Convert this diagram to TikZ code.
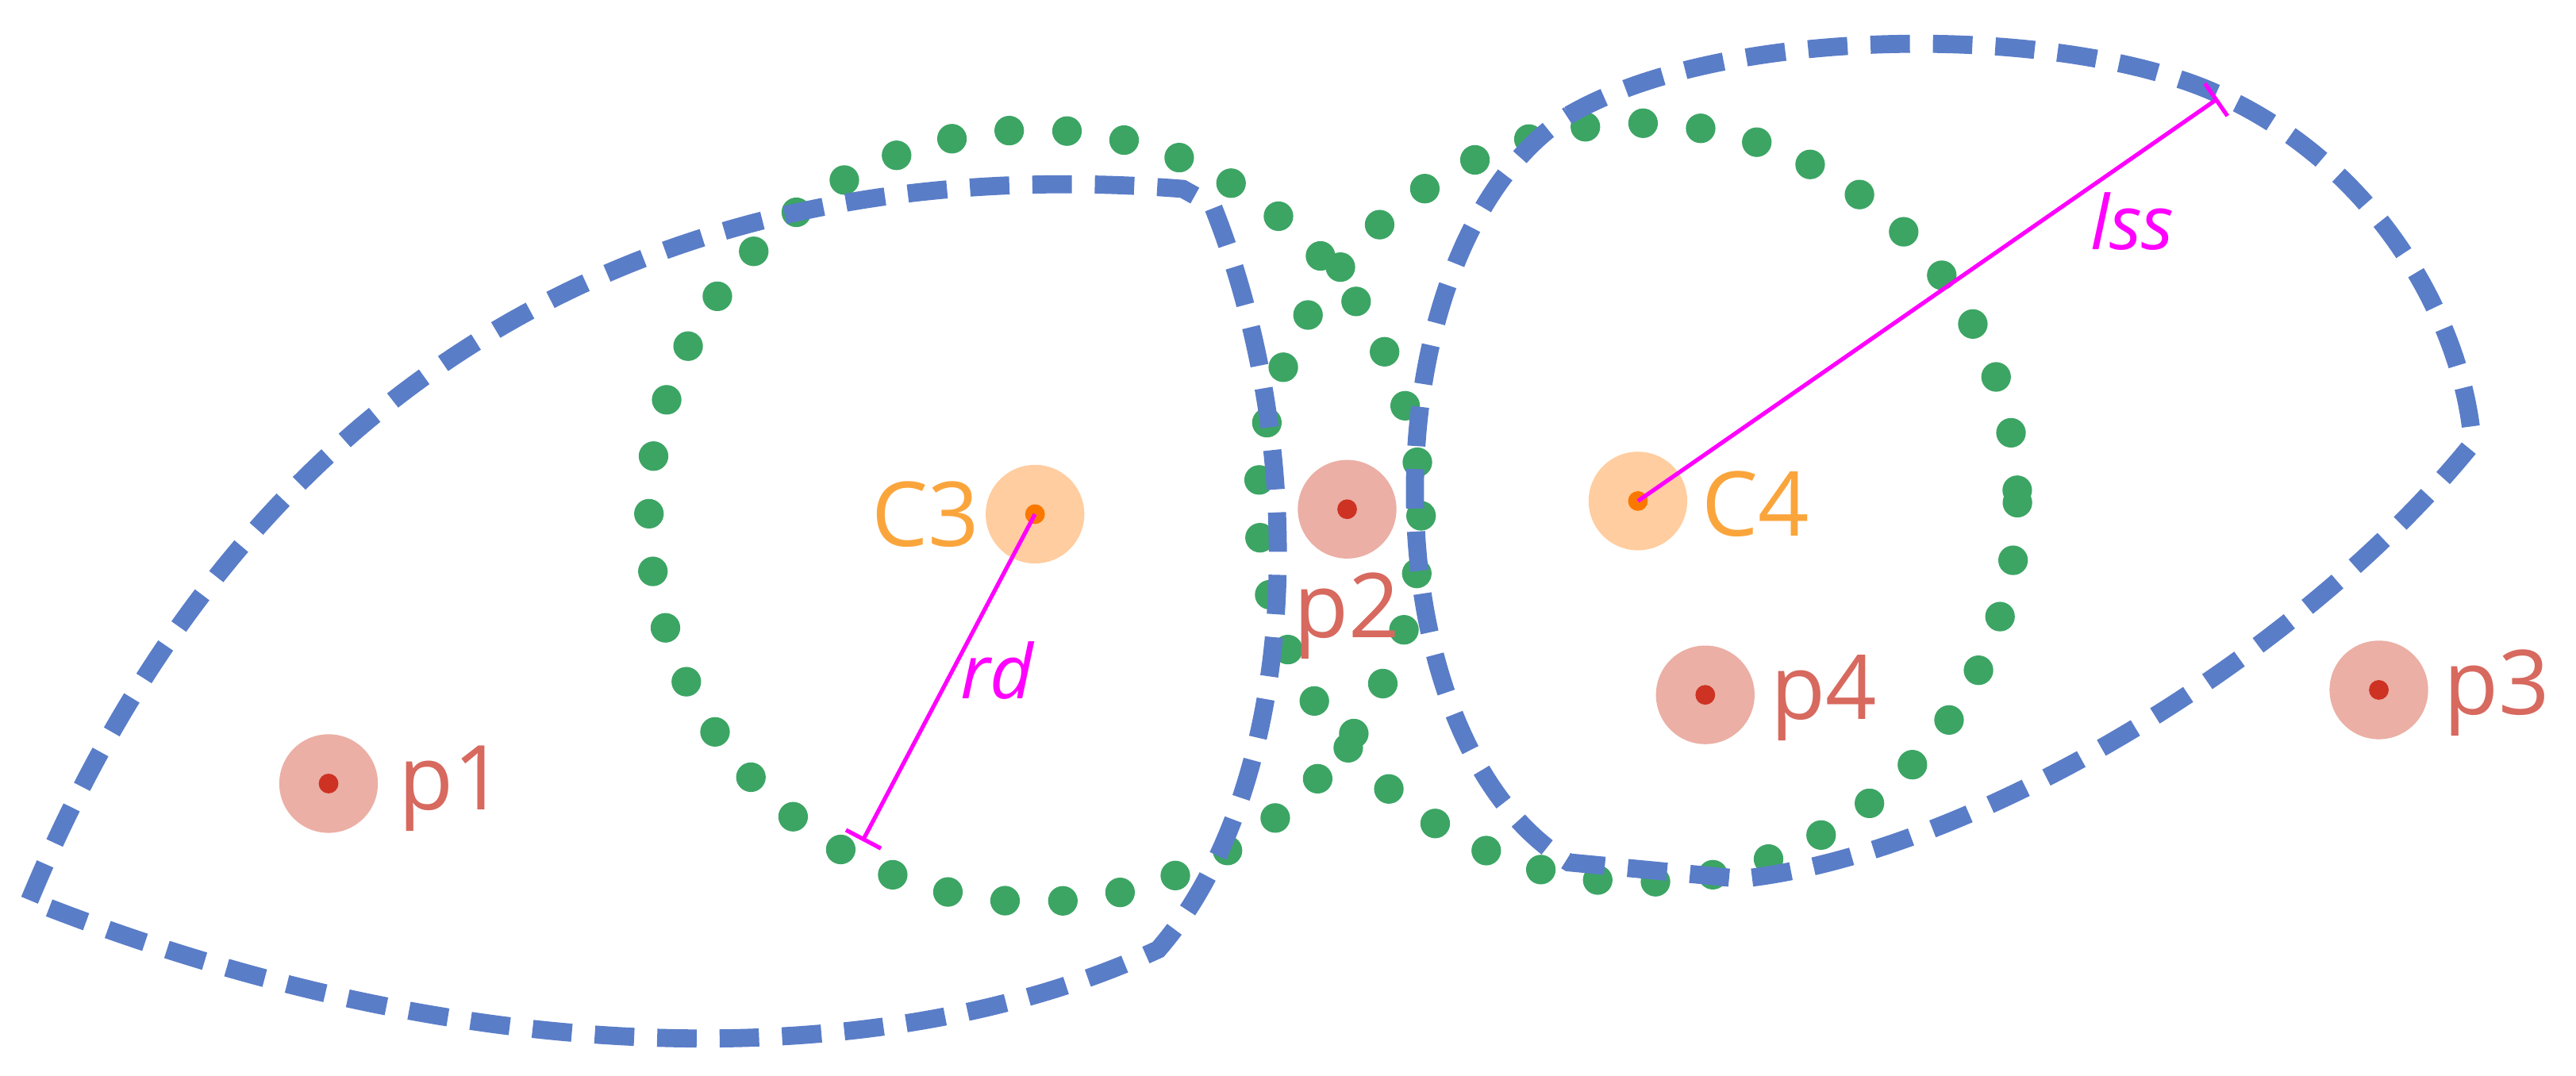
\documentclass[tikz,border=0pt]{standalone}
\usepackage{fontspec}
\setmainfont{Open Sans}
\definecolor{dotg}{RGB}{60,165,100}
\definecolor{bluec}{RGB}{90,125,200}
\definecolor{haloc}{RGB}{235,175,165}
\definecolor{ohaloc}{RGB}{255,205,160}
\definecolor{plabc}{RGB}{215,105,95}
\definecolor{clabc}{RGB}{250,165,60}
\definecolor{magc}{RGB}{255,0,255}
\definecolor{redd}{RGB}{205,50,35}
\definecolor{orad}{RGB}{250,120,0}
\begin{document}
\begin{tikzpicture}[x=0.01cm,y=-0.01cm,
  dotc/.style={draw=dotg, line width=0.18cm, line cap=round, dash pattern=on 0pt off 0.352cm},
  blueb/.style={draw=bluec, line width=0.11cm, dash pattern=on 0.24cm off 0.14cm},
  halo/.style={circle, minimum size=0.6cm, inner sep=0pt, fill=haloc},
  ohalo/.style={circle, minimum size=0.6cm, inner sep=0pt, fill=ohaloc},
  plab/.style={text=plabc, font=\fontsize{15.5}{18}\selectfont, inner sep=0pt},
  clab/.style={text=clabc, font=\fontsize{15.5}{18}\selectfont, inner sep=0pt},
  mag/.style={draw=magc, line width=0.025cm},
  mlab/.style={text=magc, font=\itshape\fontsize{13}{16}\selectfont, inner sep=0pt}]
\useasboundingbox (0,0) rectangle (1568,655);
\draw[dotc] (630,314) circle [radius=235];
\draw[dotc] (997,306) circle [radius=231];
\draw[blueb] (18,548) .. controls (150,230) and (400,90) .. (720,115) -- (738,125) .. controls (800,280) and (790,480) .. (705,578) .. controls (550,650) and (300,660) .. cycle;
\draw[blueb] (955,70) .. controls (1050,15) and (1250,15) .. (1345,55) .. controls (1450,100) and (1500,200) .. (1505,270) .. controls (1400,400) and (1200,520) .. (1060,535) -- (955,525) .. controls (830,450) and (830,150) .. cycle;
\foreach \n/\x/\y in {p1/200/477, p2/820/310, p3/1448/420, p4/1038/423}{
  \node[halo] (\n) at (\x,\y) {};
  \fill[redd] (\n.center) circle [radius=6];
}
\node[plab, anchor=west] (l1) at (242,480) {p1};
\node[plab] (l2) at (820,375) {p2};
\node[plab, anchor=west] (l3) at (1487,422) {p3};
\node[plab, anchor=west] (l4) at (1077,425) {p4};
\node[ohalo] (C3) at (630,313) {};
\fill[orad] (C3.center) circle [radius=6];
\node[ohalo] (C4) at (997,305) {};
\fill[orad] (C4.center) circle [radius=6];
\node[clab, anchor=east] (lc3) at (597,313) {C3};
\node[clab, anchor=west] (lc4) at (1035,307) {C4};
\coordinate (e1) at (525,512);
\coordinate (e2) at (1350,60);
\draw[mag, -|] (C3.center) -- (e1);
\draw[mag, -|] (C4.center) -- (e2);
\node[mlab] (rd) at (607,408) {rd};
\node[mlab] (lss) at (1298,135) {lss};
\end{tikzpicture}
\end{document}
